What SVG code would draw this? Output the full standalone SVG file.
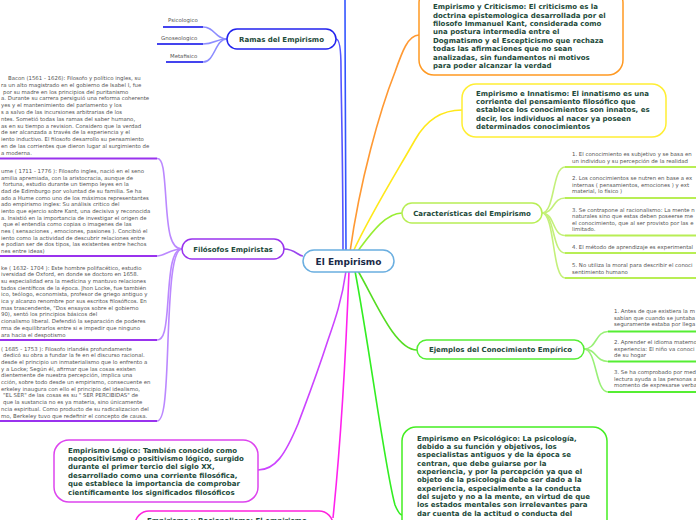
<svg xmlns="http://www.w3.org/2000/svg" width="696" height="520" viewBox="0 0 696 520">
<style>
.box{fill:#fff;stroke-width:1.5}
.bt{font-family:"DejaVu Sans",Verdana,sans-serif;font-weight:bold;font-size:7px;fill:#1d4a3a}
.nt{font-family:"DejaVu Sans",Verdana,sans-serif;font-weight:bold;font-size:7px;fill:#1d4a3a;text-anchor:middle}
.st{font-family:"DejaVu Sans",Verdana,sans-serif;font-size:5.4px;fill:#555}
.c{fill:none;stroke-width:1.6}
.u{fill:none;stroke-width:2}
</style>
<rect width="696" height="520" fill="#fff"/>
<g id="connectors">
  <path class="c" stroke="#3355ff" d="M346,252 C346,150 345,80 345,0"/>
  <path class="c" stroke="#5555ff" d="M343,252 C343,160 341,90 341,68 C341,52 340,39 336,39"/>
  <path class="c" stroke="#ff9933" d="M350,252 C360,180 380,110 395,72 C402,52 408,35 419,35"/>
  <path class="c" stroke="#ffe81a" d="M353,252 C370,215 395,175 415,140 C425,122 440,110 462,110"/>
  <path class="c" stroke="#99ee33" d="M357,252 C370,235 385,213 402,213"/>
  <path class="c" stroke="#55dd22" d="M358,271 C375,300 395,350 417,350"/>
  <path class="c" stroke="#33ee22" d="M355,271 C370,350 385,470 395,505 C398,512 400,515 402,515"/>
  <path class="c" stroke="#cc44ff" d="M346,271 C342,300 335,320 328,340 C315,380 305,405 298,424 C285,455 275,470 258,470"/>
  <path class="c" stroke="#ff22ee" d="M349,271 C346,350 340,450 333,518"/>
  <path class="c" stroke="#9944ee" d="M284,249 C295,249 298,256 303,256"/>
  <!-- Ramas branches -->
  <path class="c" stroke="#8c8cff" d="M227,39 C215,39 215,27 203,27"/>
  <path class="c" stroke="#8c8cff" d="M227,39 C215,39 215,44 203,44"/>
  <path class="c" stroke="#8c8cff" d="M227,39 C215,39 215,62 203,62"/>
  <path class="u" stroke="#4444ee" d="M163,27 H203 M157,44 H203 M166,62 H203"/>
  <!-- Filosofos branches -->
  <path class="c" stroke="#bb88ff" d="M182,249 C170,249 168,230 166,200 C164,170 163,158 157,158.5"/>
  <path class="c" stroke="#bb88ff" d="M182,249 C170,249 165,256 157,256"/>
  <path class="c" stroke="#bb88ff" d="M182,249 C172,249 170,270 168,300 C166,330 164,340 157,340"/>
  <path class="c" stroke="#bb88ff" d="M182,249 C172,249 170,290 168,340 C166,400 164,421 157,421"/>
  <path class="u" stroke="#9933ee" d="M0,158.5 H157 M0,256 H157 M0,340 H157 M0,421 H157"/>
  <!-- Caracteristicas branches -->
  <path class="c" stroke="#c4f07a" d="M542,213 C555,213 552,167 565,167"/>
  <path class="c" stroke="#c4f07a" d="M542,213 C555,213 552,198 565,198"/>
  <path class="c" stroke="#c4f07a" d="M542,213 C555,213 552,235.5 565,235.5"/>
  <path class="c" stroke="#c4f07a" d="M542,213 C555,213 552,253 565,253"/>
  <path class="c" stroke="#c4f07a" d="M542,213 C555,213 552,278 565,278"/>
  <path class="u" stroke="#b8ee55" d="M565,167 H696 M565,198 H696 M565,235.5 H696 M565,253 H696 M565,278 H696"/>
  <!-- Ejemplos branches -->
  <path class="c" stroke="#99f077" d="M584,349 C597,349 595,331.5 608,331.5"/>
  <path class="c" stroke="#99f077" d="M584,349 C597,349 595,361.5 608,361.5"/>
  <path class="c" stroke="#99f077" d="M584,349 C597,349 595,392 608,392"/>
  <path class="u" stroke="#55ee33" stroke-width="2.5" d="M608,331.5 H696 M608,361.5 H696 M608,392 H696"/>
</g>
<g id="center">
  <rect class="box" x="303" y="250" width="91" height="22" rx="11" stroke="#6aaee0"/>
  <text x="348.5" y="264.5" font-family="DejaVu Sans,Verdana,sans-serif" font-weight="bold" font-size="9" fill="#1a2a48" text-anchor="middle">El Empirismo</text>
</g>
<g id="ramas">
  <rect class="box" x="227" y="29" width="109" height="20" rx="10" stroke="#2222ee"/>
  <text class="nt" x="281.5" y="41.5">Ramas del Empirismo</text>
</g>
<g id="psicologico"><text class="st" x="168" y="22">Psicologico</text></g>
<g id="gnoseologico"><text class="st" x="161" y="40">Gnoseologico</text></g>
<g id="metafisico"><text class="st" x="170" y="58">Metafisico</text></g>
<g id="filosofos">
  <rect class="box" x="182" y="239" width="102" height="20" rx="10" stroke="#9933ee"/>
  <text class="nt" x="233" y="251.5">Filósofos Empiristas</text>
</g>
<g id="bacon">
  <text class="st" x="8" y="80">Bacon (1561 - 1626): Filosofo y político ingles, su</text>
  <text class="st" x="1" y="86.8">ra un alto magistrado en el gobierno de Isabel I, fue</text>
  <text class="st" x="3" y="93.6">por su madre en los principios del puritanismo</text>
  <text class="st" x="1" y="100.4">a. Durante su carrera persiguió una reforma coherente</text>
  <text class="st" x="1" y="107.2">yes y el mantenimiento del parlamento y los</text>
  <text class="st" x="1" y="114">s a salvo de las incursiones arbitrarias de los</text>
  <text class="st" x="1" y="120.8">ntes. Sometió todas las ramas del saber humano,</text>
  <text class="st" x="1" y="127.6">as en su tiempo a revision. Considero que la verdad</text>
  <text class="st" x="1" y="134.4">de ser alcanzada a través de la experiencia y el</text>
  <text class="st" x="1" y="141.2">iento inductivo. El filosofo desarrollo su pensamiento</text>
  <text class="st" x="1" y="148">en de las corrientes que dieron lugar al surgimiento de</text>
  <text class="st" x="1" y="154.8">a moderna.</text>
</g>
<g id="hume">
  <text class="st" x="1" y="173">ume ( 1711 - 1776 ): Filosofo ingles, nació en el seno</text>
  <text class="st" x="1" y="179.6">amilia apremiada, con la aristocracia, aunque de</text>
  <text class="st" x="3" y="186.3">fortuna, estudio durante un tiempo leyes en la</text>
  <text class="st" x="1" y="193">dad de Edimburgo por voluntad de su familia. Se ha</text>
  <text class="st" x="1" y="199.6">ado a Hume como uno de los máximos representantes</text>
  <text class="st" x="1" y="206.3">ado empirismo ingles: Su análisis critico del</text>
  <text class="st" x="1" y="213">iento que ejercio sobre Kant, una decisiva y reconocida</text>
  <text class="st" x="1" y="219.6">a. Insistió en la importancia de investigar el origen de</text>
  <text class="st" x="3" y="226.3">que el entendía como copias o imagenes de las</text>
  <text class="st" x="1" y="233">nes ( sensaciones , emociones, pasiones ). Concibió el</text>
  <text class="st" x="1" y="239.6">iento como la actividad de descubrir relaciones entre</text>
  <text class="st" x="1" y="246.3">e podian ser de dos tipos, las existentes entre hechos</text>
  <text class="st" x="1" y="253">nes entre ideas)</text>
</g>
<g id="locke">
  <text class="st" x="1" y="269.5">ke ( 1632- 1704 ): Este hombre polifacético, estudio</text>
  <text class="st" x="1" y="276.2">iversidad de Oxford, en donde se doctoro en 1658.</text>
  <text class="st" x="1" y="282.9">su especialidad era la medicina y mantuvo relaciones</text>
  <text class="st" x="1" y="289.6">tados científicos de la época. Jhon Locke, fue también</text>
  <text class="st" x="1" y="296.3">ico, teólogo, economista, profesor de griego antiguo y</text>
  <text class="st" x="1" y="303">ica y alcanzo renombre por sus escritos filosóficos. En</text>
  <text class="st" x="1" y="309.7">mas trascendente, "Dos ensayos sobre el gobierno</text>
  <text class="st" x="1" y="316.4">90), sentó los principios básicos del</text>
  <text class="st" x="1" y="323.1">cionalismo liberal. Defendió la separación de poderes</text>
  <text class="st" x="1" y="329.8">rma de equilibrarlos entre si e impedir que ninguno</text>
  <text class="st" x="1" y="336.5">ara hacia el despotismo</text>
</g>
<g id="berkeley">
  <text class="st" x="1" y="350.5">( 1685 - 1753 ): Filosofo irlandés profundamente</text>
  <text class="st" x="3" y="357.2">dedicó su obra a fundar la fe en el discurso racional.</text>
  <text class="st" x="1" y="363.9">desde el principio un inmaterialismo que lo enfrento a</text>
  <text class="st" x="1" y="370.6">y a Locke; Según él, afirmar que las cosas existen</text>
  <text class="st" x="1" y="377.3">dientemente de nuestra percepción, implica una</text>
  <text class="st" x="1" y="384">cción, sobre todo desde un empirismo, consecuente en</text>
  <text class="st" x="1" y="390.7">erkeley inaugura con ello el principio del idealismo,</text>
  <text class="st" x="3" y="397.4">"EL SER" de las cosas es su " SER PERCIBIDAS" de</text>
  <text class="st" x="3" y="404.1">que la sustancia no es ya materia, sino únicamente</text>
  <text class="st" x="1" y="410.8">ncia espiritual. Como producto de su radicalizacion del</text>
  <text class="st" x="1" y="417.5">mo, Berkeley tuvo que redefinir el concepto de causa.</text>
</g>
<g id="criticismo">
  <rect class="box" x="419" y="-12" width="204" height="87" rx="15" stroke="#ff9922"/>
  <text class="bt" x="433" y="9.2">Empirismo y Criticismo: El criticismo es la</text>
  <text class="bt" x="433" y="17.6">doctrina epistemologica desarrollada por el</text>
  <text class="bt" x="433" y="26">filosofo Immanuel Kant, considerada como</text>
  <text class="bt" x="433" y="34.4">una postura intermedia entre el</text>
  <text class="bt" x="433" y="42.8">Dogmatismo y el Escepticismo que rechaza</text>
  <text class="bt" x="433" y="51.2">todas las afirmaciones que no sean</text>
  <text class="bt" x="433" y="59.6">analizadas, sin fundamentos ni motivos</text>
  <text class="bt" x="433" y="68">para poder alcanzar la verdad</text>
</g>
<g id="innatismo">
  <rect class="box" x="462" y="84" width="204" height="53" rx="14" stroke="#ffee33"/>
  <text class="bt" x="476" y="95.5">Empirismo e Innatismo: El innatismo es una</text>
  <text class="bt" x="476" y="103.9">corriente del pensamiento filosófico que</text>
  <text class="bt" x="476" y="112.3">establece los conocimientos son innatos, es</text>
  <text class="bt" x="476" y="120.7">decir, los individuos al nacer ya poseen</text>
  <text class="bt" x="476" y="129.1">determinados conocimientos</text>
</g>
<g id="caracteristicas">
  <rect class="box" x="402" y="203" width="140" height="20" rx="10" stroke="#b8ee55"/>
  <text class="nt" x="472" y="215.5">Características del Empirismo</text>
</g>
<g id="car1">
  <text class="st" x="572" y="156">1. El conocimiento es subjetivo y se basa en</text>
  <text class="st" x="572" y="162.5">un individuo y su percepción de la realidad</text>
</g>
<g id="car2">
  <text class="st" x="572" y="180">2. Los conocimientos se nutren en base a ex</text>
  <text class="st" x="572" y="186.5">internas ( pensamientos, emociones )  y ext</text>
  <text class="st" x="572" y="193">material, lo físico )</text>
</g>
<g id="car3">
  <text class="st" x="572" y="211.5">3. Se contrapone al racionalismo: La mente n</text>
  <text class="st" x="572" y="218">naturales sino que estas deben poseerse me</text>
  <text class="st" x="572" y="224.5">el conocimiento, que al ser provisto por las e</text>
  <text class="st" x="572" y="231">limitado.</text>
</g>
<g id="car4"><text class="st" x="572" y="249">4. El método de aprendizaje es experimental</text></g>
<g id="car5">
  <text class="st" x="572" y="267">5. No utiliza la moral para describir el conoci</text>
  <text class="st" x="572" y="273.5">sentimiento humano</text>
</g>
<g id="ejemplos">
  <rect class="box" x="417" y="340" width="167" height="19" rx="9.5" stroke="#55ee33"/>
  <text class="nt" x="500.5" y="352">Ejemplos del Conocimiento Empírico</text>
</g>
<g id="ej1">
  <text class="st" x="614" y="313">1. Antes de que existiera la m</text>
  <text class="st" x="614" y="319.5">sabían que cuando se juntaba</text>
  <text class="st" x="614" y="326">seguramente estaba por llega</text>
</g>
<g id="ej2">
  <text class="st" x="614" y="344">2. Aprender el idioma materno</text>
  <text class="st" x="614" y="350.5">experiencia: El niño va conoci</text>
  <text class="st" x="614" y="357">de su hogar</text>
</g>
<g id="ej3">
  <text class="st" x="614" y="374">3. Se ha comprobado por med</text>
  <text class="st" x="614" y="380.5">lectura ayuda a las personas a</text>
  <text class="st" x="614" y="387">momento de expresarse verba</text>
</g>
<g id="psicologia">
  <rect class="box" x="402" y="427" width="205" height="120" rx="14" stroke="#44ee22"/>
  <text class="bt" x="417" y="440.5">Empirismo en Psicológico: La psicología,</text>
  <text class="bt" x="417" y="448.9">debido a su función y objetivos, los</text>
  <text class="bt" x="417" y="457.2">especialistas antiguos y de la época se</text>
  <text class="bt" x="417" y="465.6">centran, que debe guiarse por la</text>
  <text class="bt" x="417" y="473.9">experiencia, y por la percepción ya que el</text>
  <text class="bt" x="417" y="482.3">objeto de la psicología debe ser dado a la</text>
  <text class="bt" x="417" y="490.6">experiencia, especialmente a la conducta</text>
  <text class="bt" x="417" y="499">del sujeto y no a la mente, en virtud de que</text>
  <text class="bt" x="417" y="507.3">los estados mentales son irrelevantes para</text>
  <text class="bt" x="417" y="515.7">dar cuenta de la actitud o conducta del</text>
</g>
<g id="logico">
  <rect class="box" x="54" y="440" width="204" height="62" rx="15" stroke="#dd44ee"/>
  <text class="bt" x="68" y="452.5">Empirismo Lógico: También conocido como</text>
  <text class="bt" x="68" y="460.9">neopositivismo o positivismo lógico, surgido</text>
  <text class="bt" x="68" y="469.3">durante el primer tercio del siglo XX,</text>
  <text class="bt" x="68" y="477.7">desarrollado como una corriente filosófica,</text>
  <text class="bt" x="68" y="486.1">que establece la importancia de comprobar</text>
  <text class="bt" x="68" y="494.5">científicamente los significados filosóficos</text>
</g>
<g id="racionalismo">
  <rect class="box" x="135" y="511" width="198" height="40" rx="14" stroke="#ff22dd"/>
  <text class="bt" x="147" y="522.5">Empirismo y Racionalismo: El empirismo</text>
</g>
</svg>
